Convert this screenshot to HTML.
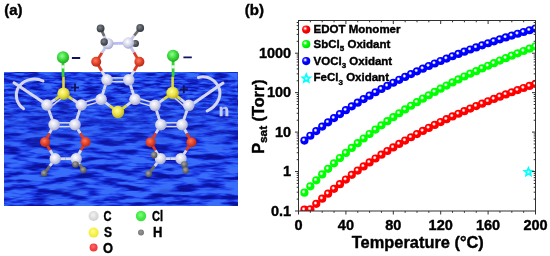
<!DOCTYPE html>
<html><head><meta charset="utf-8"><title>Figure</title>
<style>
html,body{margin:0;padding:0;background:#fff;}
body{width:550px;height:256px;overflow:hidden;}
svg{display:block;}
text{font-family:"Liberation Sans",sans-serif;font-weight:bold;fill:#000;stroke:#000;stroke-width:0.4px;}
</style></head><body>
<svg width="550" height="256" viewBox="0 0 550 256">
<defs>
<radialGradient id="mr" cx="0.40" cy="0.40" r="0.55"><stop offset="0" stop-color="#fff"/><stop offset="0.12" stop-color="#fff"/><stop offset="0.28" stop-color="#ff8c8c"/><stop offset="0.44" stop-color="#ff0000"/><stop offset="1" stop-color="#ff0000"/></radialGradient>
<radialGradient id="mg" cx="0.40" cy="0.40" r="0.55"><stop offset="0" stop-color="#fff"/><stop offset="0.12" stop-color="#fff"/><stop offset="0.28" stop-color="#8cff8c"/><stop offset="0.44" stop-color="#00ff00"/><stop offset="1" stop-color="#00ff00"/></radialGradient>
<radialGradient id="mb" cx="0.40" cy="0.40" r="0.55"><stop offset="0" stop-color="#fff"/><stop offset="0.12" stop-color="#fff"/><stop offset="0.28" stop-color="#8c8cff"/><stop offset="0.44" stop-color="#0000ff"/><stop offset="1" stop-color="#0000ff"/></radialGradient>
<radialGradient id="Lr" cx="0.38" cy="0.36" r="0.62"><stop offset="0" stop-color="#fff"/><stop offset="0.08" stop-color="#fff"/><stop offset="0.3" stop-color="#ff5050"/><stop offset="0.5" stop-color="#ff0000"/><stop offset="1" stop-color="#e00000"/></radialGradient>
<radialGradient id="Lg" cx="0.38" cy="0.36" r="0.62"><stop offset="0" stop-color="#fff"/><stop offset="0.08" stop-color="#fff"/><stop offset="0.3" stop-color="#50ff50"/><stop offset="0.5" stop-color="#00ff00"/><stop offset="1" stop-color="#00e000"/></radialGradient>
<radialGradient id="Lb" cx="0.38" cy="0.36" r="0.62"><stop offset="0" stop-color="#fff"/><stop offset="0.08" stop-color="#fff"/><stop offset="0.3" stop-color="#5050ff"/><stop offset="0.5" stop-color="#0000ff"/><stop offset="1" stop-color="#0000e0"/></radialGradient>
<radialGradient id="aC" cx="0.42" cy="0.38" r="0.65"><stop offset="0" stop-color="#ffffff"/><stop offset="0.55" stop-color="#d4d6ea"/><stop offset="1" stop-color="#9ea4cc"/></radialGradient>
<radialGradient id="aS" cx="0.42" cy="0.38" r="0.65"><stop offset="0" stop-color="#ffff9a"/><stop offset="0.55" stop-color="#e8e040"/><stop offset="1" stop-color="#b0a820"/></radialGradient>
<radialGradient id="aO" cx="0.42" cy="0.38" r="0.65"><stop offset="0" stop-color="#ff7a5a"/><stop offset="0.55" stop-color="#e04028"/><stop offset="1" stop-color="#a82818"/></radialGradient>
<radialGradient id="aCl" cx="0.42" cy="0.38" r="0.65"><stop offset="0" stop-color="#90ff90"/><stop offset="0.55" stop-color="#38d838"/><stop offset="1" stop-color="#20a020"/></radialGradient>
<radialGradient id="lC" cx="0.45" cy="0.4" r="0.6"><stop offset="0" stop-color="#f4f4f4"/><stop offset="0.6" stop-color="#dcdcdc"/><stop offset="1" stop-color="#cfcfcf"/></radialGradient>
<radialGradient id="lS" cx="0.45" cy="0.4" r="0.6"><stop offset="0" stop-color="#ffff90"/><stop offset="0.6" stop-color="#f8f048"/><stop offset="1" stop-color="#efe63c"/></radialGradient>
<radialGradient id="lO" cx="0.45" cy="0.4" r="0.6"><stop offset="0" stop-color="#ff7070"/><stop offset="0.6" stop-color="#f44040"/><stop offset="1" stop-color="#ee3a3a"/></radialGradient>
<radialGradient id="lCl" cx="0.45" cy="0.4" r="0.6"><stop offset="0" stop-color="#80ff80"/><stop offset="0.6" stop-color="#44ea44"/><stop offset="1" stop-color="#3ce03c"/></radialGradient>
<radialGradient id="lH" cx="0.45" cy="0.4" r="0.6"><stop offset="0" stop-color="#999"/><stop offset="0.6" stop-color="#808080"/><stop offset="1" stop-color="#787878"/></radialGradient>
<radialGradient id="aH2" cx="0.42" cy="0.38" r="0.65"><stop offset="0" stop-color="#80848c"/><stop offset="0.55" stop-color="#50545c"/><stop offset="1" stop-color="#30343c"/></radialGradient>
<radialGradient id="aH" cx="0.42" cy="0.38" r="0.65"><stop offset="0" stop-color="#a8a8a8"/><stop offset="0.55" stop-color="#707070"/><stop offset="1" stop-color="#484848"/></radialGradient>
<filter id="water" x="0" y="0" width="100%" height="100%" color-interpolation-filters="sRGB">
<feTurbulence type="fractalNoise" baseFrequency="0.04 0.2" numOctaves="3" seed="7" result="n"/>
<feColorMatrix in="n" type="matrix" values="3 0 0 0 -0.85  3 0 0 0 -0.85  3 0 0 0 -0.85  0 0 0 0 1"/>
<feComponentTransfer><feFuncR type="table" tableValues="0.05 0.06 0.10 0.16 0.22"/><feFuncG type="table" tableValues="0.07 0.11 0.21 0.33 0.43"/><feFuncB type="table" tableValues="0.60 0.72 0.87 0.95 0.98"/></feComponentTransfer>
</filter>
<filter id="water2" x="0" y="0" width="100%" height="100%" color-interpolation-filters="sRGB">
<feTurbulence type="fractalNoise" baseFrequency="0.07 0.36" numOctaves="3" seed="3" result="n"/>
<feColorMatrix in="n" type="matrix" values="2.2 0 0 0 -0.52  2.2 0 0 0 -0.52  2.2 0 0 0 -0.52  0 0 0 0 1"/>
<feComponentTransfer><feFuncR type="table" tableValues="0.05 0.06 0.10 0.16 0.22"/><feFuncG type="table" tableValues="0.07 0.11 0.21 0.33 0.43"/><feFuncB type="table" tableValues="0.60 0.72 0.87 0.95 0.98"/></feComponentTransfer>
</filter>
<linearGradient id="fade" x1="0" y1="0" x2="0" y2="1"><stop offset="0" stop-color="#fff"/><stop offset="0.15" stop-color="#fff"/><stop offset="0.6" stop-color="#000"/></linearGradient>
<mask id="fm" maskUnits="userSpaceOnUse" x="4" y="72.5" width="233.5" height="133"><rect x="4" y="72.5" width="233.5" height="133" fill="url(#fade)"/></mask>
<filter id="blur" x="-20%" y="-50%" width="140%" height="200%"><feGaussianBlur stdDeviation="1.2"/></filter>
<clipPath id="pc"><rect x="298.5" y="20.5" width="237.0" height="190.5"/></clipPath>
</defs>
<rect width="550" height="256" fill="#fff"/>

<g id="panel-a">
<rect x="4" y="72.7" width="233.5" height="132.8" fill="#1a34e0" filter="url(#water)"/>
<g mask="url(#fm)"><rect x="4" y="72.7" width="233.5" height="132.8" fill="#1a34e0" filter="url(#water2)"/></g>
<g fill="none" stroke="#0a1490" stroke-width="3" opacity="0.28" filter="url(#blur)"><path d="M44,199 L56,191 L77,191 L86,184"/><path d="M150,199 L162,191 L184,191 L193,184"/></g>
<g fill="none" stroke="#d4d7ee" stroke-width="3" stroke-linecap="round">
<path d="M43,81 C34,76.5 22,80 17.5,89 C14.5,96 17,104 23.5,108.6"/>
<path d="M14,82.8 L42.5,101.8"/>
<path d="M198.3,77.6 C207,74.5 216,80 219.4,89 C221.5,97 217,106.5 207.1,111"/>
<path d="M194,103 L223,83"/>
</g>
<g>
<line x1="63.0" y1="57.4" x2="63.0" y2="76.7" stroke="#34d034" stroke-width="2.8"/><line x1="63.0" y1="65.3" x2="63.0" y2="68.4" stroke="#fff" stroke-opacity="0.9" stroke-width="3.2"/><line x1="63.5" y1="76.7" x2="63.5" y2="93.6" stroke="#e0d838" stroke-width="2.6"/>
<line x1="63.5" y1="93.6" x2="55.2" y2="99.3" stroke="#e0d838" stroke-width="2.8"/><line x1="55.2" y1="99.3" x2="47.0" y2="105.0" stroke="#d8d8ec" stroke-width="2.8"/>
<line x1="63.5" y1="93.6" x2="72.4" y2="99.3" stroke="#e0d838" stroke-width="2.8"/><line x1="72.4" y1="99.3" x2="81.3" y2="105.0" stroke="#d8d8ec" stroke-width="2.8"/>
<line x1="47.0" y1="105.0" x2="50.5" y2="114.8" stroke="#d8d8ec" stroke-width="2.8"/><line x1="50.5" y1="114.8" x2="54.1" y2="124.7" stroke="#d8d8ec" stroke-width="2.8"/>
<line x1="81.3" y1="105.0" x2="78.2" y2="114.8" stroke="#d8d8ec" stroke-width="2.8"/><line x1="78.2" y1="114.8" x2="75.0" y2="124.7" stroke="#d8d8ec" stroke-width="2.8"/>
<line x1="54.1" y1="126.6" x2="75.0" y2="126.6" stroke="#d8d8ec" stroke-width="1.5"/><line x1="54.1" y1="122.8" x2="75.0" y2="122.8" stroke="#d8d8ec" stroke-width="1.5"/>
<line x1="54.1" y1="124.7" x2="49.5" y2="133.3" stroke="#d8d8ec" stroke-width="2.8"/><line x1="49.5" y1="133.3" x2="45.0" y2="142.0" stroke="#d83c26" stroke-width="2.8"/>
<line x1="75.0" y1="124.7" x2="80.3" y2="133.3" stroke="#d8d8ec" stroke-width="2.8"/><line x1="80.3" y1="133.3" x2="85.6" y2="142.0" stroke="#d83c26" stroke-width="2.8"/>
<line x1="45.0" y1="142.0" x2="50.1" y2="150.3" stroke="#d83c26" stroke-width="2.8"/><line x1="50.1" y1="150.3" x2="55.2" y2="158.7" stroke="#d8d8ec" stroke-width="2.8"/>
<line x1="85.6" y1="142.0" x2="80.9" y2="150.3" stroke="#d83c26" stroke-width="2.8"/><line x1="80.9" y1="150.3" x2="76.2" y2="158.7" stroke="#d8d8ec" stroke-width="2.8"/>
<line x1="55.2" y1="158.7" x2="65.7" y2="158.7" stroke="#d8d8ec" stroke-width="2.8"/><line x1="65.7" y1="158.7" x2="76.2" y2="158.7" stroke="#d8d8ec" stroke-width="2.8"/>
<line x1="63.5" y1="96.8" x2="48.5" y2="108.4" stroke="#d8d8ec" stroke-width="1.4"/>
<line x1="55.2" y1="158.7" x2="49.7" y2="166.1" stroke="#d8d8ec" stroke-width="2.8"/><line x1="49.7" y1="166.1" x2="44.2" y2="173.4" stroke="#6c6c6c" stroke-width="2.8"/>
<line x1="76.2" y1="158.7" x2="75.8" y2="161.6" stroke="#d8d8ec" stroke-width="2.8"/><line x1="75.8" y1="161.6" x2="75.5" y2="164.5" stroke="#6c6c6c" stroke-width="2.8"/>
<line x1="76.2" y1="158.7" x2="79.8" y2="164.3" stroke="#d8d8ec" stroke-width="2.8"/><line x1="79.8" y1="164.3" x2="83.3" y2="170.0" stroke="#6c6c6c" stroke-width="2.8"/>
<line x1="173.1" y1="55.8" x2="173.1" y2="76.7" stroke="#34d034" stroke-width="2.8"/><line x1="173.1" y1="65.3" x2="173.1" y2="68.4" stroke="#fff" stroke-opacity="0.9" stroke-width="3.2"/><line x1="172.6" y1="76.7" x2="172.6" y2="92.9" stroke="#e0d838" stroke-width="2.6"/>
<line x1="172.6" y1="92.9" x2="163.8" y2="99.1" stroke="#e0d838" stroke-width="2.8"/><line x1="163.8" y1="99.1" x2="155.0" y2="105.3" stroke="#d8d8ec" stroke-width="2.8"/>
<line x1="172.6" y1="92.9" x2="180.6" y2="99.1" stroke="#e0d838" stroke-width="2.8"/><line x1="180.6" y1="99.1" x2="188.7" y2="105.3" stroke="#d8d8ec" stroke-width="2.8"/>
<line x1="155.0" y1="105.3" x2="157.9" y2="115.0" stroke="#d8d8ec" stroke-width="2.8"/><line x1="157.9" y1="115.0" x2="160.9" y2="124.7" stroke="#d8d8ec" stroke-width="2.8"/>
<line x1="188.7" y1="105.3" x2="185.4" y2="115.0" stroke="#d8d8ec" stroke-width="2.8"/><line x1="185.4" y1="115.0" x2="182.1" y2="124.7" stroke="#d8d8ec" stroke-width="2.8"/>
<line x1="160.9" y1="126.6" x2="182.1" y2="126.6" stroke="#d8d8ec" stroke-width="1.5"/><line x1="160.9" y1="122.8" x2="182.1" y2="122.8" stroke="#d8d8ec" stroke-width="1.5"/>
<line x1="160.9" y1="124.7" x2="155.8" y2="133.4" stroke="#d8d8ec" stroke-width="2.8"/><line x1="155.8" y1="133.4" x2="150.6" y2="142.2" stroke="#d83c26" stroke-width="2.8"/>
<line x1="182.1" y1="124.7" x2="186.8" y2="133.4" stroke="#d8d8ec" stroke-width="2.8"/><line x1="186.8" y1="133.4" x2="191.4" y2="142.2" stroke="#d83c26" stroke-width="2.8"/>
<line x1="150.6" y1="142.2" x2="155.5" y2="150.4" stroke="#d83c26" stroke-width="2.8"/><line x1="155.5" y1="150.4" x2="160.4" y2="158.6" stroke="#d8d8ec" stroke-width="2.8"/>
<line x1="191.4" y1="142.2" x2="186.2" y2="150.4" stroke="#d83c26" stroke-width="2.8"/><line x1="186.2" y1="150.4" x2="181.0" y2="158.6" stroke="#d8d8ec" stroke-width="2.8"/>
<line x1="160.4" y1="158.6" x2="170.7" y2="158.6" stroke="#d8d8ec" stroke-width="2.8"/><line x1="170.7" y1="158.6" x2="181.0" y2="158.6" stroke="#d8d8ec" stroke-width="2.8"/>
<line x1="172.6" y1="96.1" x2="187.2" y2="108.7" stroke="#d8d8ec" stroke-width="1.4"/>
<line x1="160.4" y1="158.6" x2="157.2" y2="156.8" stroke="#d8d8ec" stroke-width="2.8"/><line x1="157.2" y1="156.8" x2="154.1" y2="155.1" stroke="#6c6c6c" stroke-width="2.8"/>
<line x1="160.4" y1="158.6" x2="154.6" y2="166.2" stroke="#d8d8ec" stroke-width="2.8"/><line x1="154.6" y1="166.2" x2="148.7" y2="173.9" stroke="#6c6c6c" stroke-width="2.8"/>
<line x1="181.0" y1="158.6" x2="182.7" y2="161.6" stroke="#d8d8ec" stroke-width="2.8"/><line x1="182.7" y1="161.6" x2="184.3" y2="164.5" stroke="#6c6c6c" stroke-width="2.8"/>
<line x1="181.0" y1="158.6" x2="183.3" y2="164.5" stroke="#d8d8ec" stroke-width="2.8"/><line x1="183.3" y1="164.5" x2="185.7" y2="170.4" stroke="#6c6c6c" stroke-width="2.8"/>
<line x1="118.0" y1="112.0" x2="109.5" y2="105.7" stroke="#e0d838" stroke-width="2.8"/><line x1="109.5" y1="105.7" x2="101.1" y2="99.3" stroke="#d8d8ec" stroke-width="2.8"/>
<line x1="118.0" y1="112.0" x2="126.5" y2="105.7" stroke="#e0d838" stroke-width="2.8"/><line x1="126.5" y1="105.7" x2="135.0" y2="99.3" stroke="#d8d8ec" stroke-width="2.8"/>
<line x1="101.1" y1="99.3" x2="104.0" y2="89.5" stroke="#d8d8ec" stroke-width="2.8"/><line x1="104.0" y1="89.5" x2="107.0" y2="79.8" stroke="#d8d8ec" stroke-width="2.8"/>
<line x1="135.0" y1="99.3" x2="131.9" y2="89.5" stroke="#d8d8ec" stroke-width="2.8"/><line x1="131.9" y1="89.5" x2="128.8" y2="79.8" stroke="#d8d8ec" stroke-width="2.8"/>
<line x1="107.0" y1="81.7" x2="128.8" y2="81.7" stroke="#d8d8ec" stroke-width="1.5"/><line x1="107.0" y1="77.9" x2="128.8" y2="77.9" stroke="#d8d8ec" stroke-width="1.5"/>
<line x1="107.0" y1="79.8" x2="101.6" y2="70.8" stroke="#d8d8ec" stroke-width="2.8"/><line x1="101.6" y1="70.8" x2="96.2" y2="61.8" stroke="#d83c26" stroke-width="2.8"/>
<line x1="128.8" y1="79.8" x2="134.1" y2="70.8" stroke="#d8d8ec" stroke-width="2.8"/><line x1="134.1" y1="70.8" x2="139.4" y2="61.8" stroke="#d83c26" stroke-width="2.8"/>
<line x1="96.2" y1="61.8" x2="102.0" y2="52.7" stroke="#d83c26" stroke-width="2.8"/><line x1="102.0" y1="52.7" x2="107.8" y2="43.6" stroke="#c4c6ee" stroke-width="2.8"/>
<line x1="139.4" y1="61.8" x2="133.9" y2="52.4" stroke="#d83c26" stroke-width="2.8"/><line x1="133.9" y1="52.4" x2="128.4" y2="43.0" stroke="#c4c6ee" stroke-width="2.8"/>
<line x1="107.8" y1="43.6" x2="118.1" y2="43.3" stroke="#b8bcf0" stroke-width="2.8"/><line x1="118.1" y1="43.3" x2="128.4" y2="43.0" stroke="#b8bcf0" stroke-width="2.8"/>
<line x1="107.8" y1="43.6" x2="104.2" y2="36.0" stroke="#c4c6ee" stroke-width="2.8"/><line x1="104.2" y1="36.0" x2="100.6" y2="28.4" stroke="#6c6c6c" stroke-width="2.8"/>
<line x1="128.4" y1="43.0" x2="134.3" y2="35.5" stroke="#c4c6ee" stroke-width="2.8"/><line x1="134.3" y1="35.5" x2="140.2" y2="28.0" stroke="#6c6c6c" stroke-width="2.8"/>
<line x1="81.8" y1="106.8" x2="101.6" y2="101.1" stroke="#d8d8ec" stroke-width="1.5"/><line x1="80.8" y1="103.2" x2="100.6" y2="97.5" stroke="#d8d8ec" stroke-width="1.5"/>
<line x1="134.5" y1="101.1" x2="154.5" y2="107.1" stroke="#d8d8ec" stroke-width="1.5"/><line x1="135.5" y1="97.5" x2="155.5" y2="103.5" stroke="#d8d8ec" stroke-width="1.5"/>
<circle cx="63.0" cy="57.4" r="6.1" fill="url(#aCl)"/>
<circle cx="63.5" cy="93.6" r="6.2" fill="url(#aS)"/>
<circle cx="47.0" cy="105.0" r="5.8" fill="url(#aC)"/>
<circle cx="81.3" cy="105.0" r="5.8" fill="url(#aC)"/>
<circle cx="54.1" cy="124.7" r="5.8" fill="url(#aC)"/>
<circle cx="75.0" cy="124.7" r="5.8" fill="url(#aC)"/>
<circle cx="45.0" cy="142.0" r="5.0" fill="url(#aO)"/>
<circle cx="85.6" cy="142.0" r="5.0" fill="url(#aO)"/>
<circle cx="55.2" cy="158.7" r="5.7" fill="url(#aC)"/>
<circle cx="76.2" cy="158.7" r="5.7" fill="url(#aC)"/>
<circle cx="44.2" cy="173.4" r="3.3" fill="url(#aH)"/>
<circle cx="75.5" cy="164.5" r="3.3" fill="url(#aH)"/>
<circle cx="83.3" cy="170.0" r="3.3" fill="url(#aH)"/>
<circle cx="173.1" cy="55.8" r="6.1" fill="url(#aCl)"/>
<circle cx="172.6" cy="92.9" r="6.2" fill="url(#aS)"/>
<circle cx="155.0" cy="105.3" r="5.8" fill="url(#aC)"/>
<circle cx="188.7" cy="105.3" r="5.8" fill="url(#aC)"/>
<circle cx="160.9" cy="124.7" r="5.8" fill="url(#aC)"/>
<circle cx="182.1" cy="124.7" r="5.8" fill="url(#aC)"/>
<circle cx="150.6" cy="142.2" r="5.0" fill="url(#aO)"/>
<circle cx="191.4" cy="142.2" r="5.0" fill="url(#aO)"/>
<circle cx="160.4" cy="158.6" r="5.7" fill="url(#aC)"/>
<circle cx="181.0" cy="158.6" r="5.7" fill="url(#aC)"/>
<circle cx="154.1" cy="155.1" r="3.3" fill="url(#aH)"/>
<circle cx="148.7" cy="173.9" r="3.3" fill="url(#aH)"/>
<circle cx="184.3" cy="164.5" r="3.3" fill="url(#aH)"/>
<circle cx="185.7" cy="170.4" r="3.3" fill="url(#aH)"/>
<circle cx="135.5" cy="43.6" r="3.5" fill="url(#aH2)"/>
<circle cx="118.0" cy="112.0" r="6.2" fill="url(#aS)"/>
<circle cx="101.1" cy="99.3" r="5.8" fill="url(#aC)"/>
<circle cx="135.0" cy="99.3" r="5.8" fill="url(#aC)"/>
<circle cx="107.0" cy="79.8" r="5.8" fill="url(#aC)"/>
<circle cx="128.8" cy="79.8" r="5.8" fill="url(#aC)"/>
<circle cx="96.2" cy="61.8" r="5.0" fill="url(#aO)"/>
<circle cx="139.4" cy="61.8" r="5.0" fill="url(#aO)"/>
<circle cx="107.8" cy="43.6" r="5.7" fill="url(#aC)"/>
<circle cx="128.4" cy="43.0" r="5.7" fill="url(#aC)"/>
<circle cx="100.6" cy="28.4" r="3.9" fill="url(#aH2)"/>
<circle cx="140.2" cy="28.0" r="3.9" fill="url(#aH2)"/>
<circle cx="104.2" cy="42.0" r="3.7" fill="url(#aH2)"/>
</g>
<g stroke="#12125a" stroke-width="1.8">
<path d="M71.0,87.6 h8 M75.0,83.6 v8"/>
<path d="M179.8,89.3 h8 M183.8,85.3 v8"/>
<path d="M71.9,58 h8.3 M183.4,57.3 h8.4"/>
</g>
<text x="218.8" y="116.2" font-size="17" style="fill:#c6caee;stroke:#c6caee">n</text>
<circle cx="93.6" cy="216.0" r="5.0" fill="url(#lC)"/>
<text x="103.6" y="221.0" font-size="14" textLength="8.0" lengthAdjust="spacingAndGlyphs">C</text>
<circle cx="93.6" cy="232.6" r="5.0" fill="url(#lS)"/>
<text x="104.0" y="237.4" font-size="14" textLength="8.0" lengthAdjust="spacingAndGlyphs">S</text>
<circle cx="93.6" cy="247.4" r="4.0" fill="url(#lO)"/>
<text x="103.0" y="253.0" font-size="14" textLength="10.0" lengthAdjust="spacingAndGlyphs">O</text>
<circle cx="141.0" cy="216.0" r="5.2" fill="url(#lCl)"/>
<text x="152.0" y="221.0" font-size="14" textLength="11.0" lengthAdjust="spacingAndGlyphs">Cl</text>
<circle cx="141.0" cy="232.6" r="3.0" fill="url(#lH)"/>
<text x="153.0" y="237.4" font-size="14" textLength="9.4" lengthAdjust="spacingAndGlyphs">H</text>
<text x="4.2" y="15" font-size="15">(a)</text>
</g>
<g id="panel-b">
<text x="244.8" y="15" font-size="15">(b)</text>
<g clip-path="url(#pc)">
<circle cx="304.43" cy="209.70" r="4.1" fill="url(#mr)"/>
<circle cx="310.35" cy="209.23" r="4.1" fill="url(#mr)"/>
<circle cx="316.27" cy="203.86" r="4.1" fill="url(#mr)"/>
<circle cx="322.20" cy="198.68" r="4.1" fill="url(#mr)"/>
<circle cx="328.12" cy="193.67" r="4.1" fill="url(#mr)"/>
<circle cx="334.05" cy="188.82" r="4.1" fill="url(#mr)"/>
<circle cx="339.98" cy="184.13" r="4.1" fill="url(#mr)"/>
<circle cx="345.90" cy="179.59" r="4.1" fill="url(#mr)"/>
<circle cx="351.82" cy="174.83" r="4.1" fill="url(#mr)"/>
<circle cx="357.75" cy="170.56" r="4.1" fill="url(#mr)"/>
<circle cx="363.68" cy="166.42" r="4.1" fill="url(#mr)"/>
<circle cx="369.60" cy="162.40" r="4.1" fill="url(#mr)"/>
<circle cx="375.52" cy="158.49" r="4.1" fill="url(#mr)"/>
<circle cx="381.45" cy="154.70" r="4.1" fill="url(#mr)"/>
<circle cx="387.38" cy="151.02" r="4.1" fill="url(#mr)"/>
<circle cx="393.30" cy="147.44" r="4.1" fill="url(#mr)"/>
<circle cx="399.23" cy="143.96" r="4.1" fill="url(#mr)"/>
<circle cx="405.15" cy="140.57" r="4.1" fill="url(#mr)"/>
<circle cx="411.07" cy="137.27" r="4.1" fill="url(#mr)"/>
<circle cx="417.00" cy="134.06" r="4.1" fill="url(#mr)"/>
<circle cx="422.93" cy="130.94" r="4.1" fill="url(#mr)"/>
<circle cx="428.85" cy="127.89" r="4.1" fill="url(#mr)"/>
<circle cx="434.77" cy="124.92" r="4.1" fill="url(#mr)"/>
<circle cx="440.70" cy="122.03" r="4.1" fill="url(#mr)"/>
<circle cx="446.62" cy="119.21" r="4.1" fill="url(#mr)"/>
<circle cx="452.55" cy="116.46" r="4.1" fill="url(#mr)"/>
<circle cx="458.48" cy="113.77" r="4.1" fill="url(#mr)"/>
<circle cx="464.40" cy="111.15" r="4.1" fill="url(#mr)"/>
<circle cx="470.32" cy="108.59" r="4.1" fill="url(#mr)"/>
<circle cx="476.25" cy="106.09" r="4.1" fill="url(#mr)"/>
<circle cx="482.18" cy="103.65" r="4.1" fill="url(#mr)"/>
<circle cx="488.10" cy="101.26" r="4.1" fill="url(#mr)"/>
<circle cx="494.02" cy="98.93" r="4.1" fill="url(#mr)"/>
<circle cx="499.95" cy="96.65" r="4.1" fill="url(#mr)"/>
<circle cx="505.88" cy="94.42" r="4.1" fill="url(#mr)"/>
<circle cx="511.80" cy="92.24" r="4.1" fill="url(#mr)"/>
<circle cx="517.73" cy="90.10" r="4.1" fill="url(#mr)"/>
<circle cx="523.65" cy="88.01" r="4.1" fill="url(#mr)"/>
<circle cx="529.58" cy="85.97" r="4.1" fill="url(#mr)"/>
<circle cx="535.50" cy="83.97" r="4.1" fill="url(#mr)"/>
</g>
<g clip-path="url(#pc)">
<circle cx="304.43" cy="192.64" r="4.1" fill="url(#mg)"/>
<circle cx="310.35" cy="186.37" r="4.1" fill="url(#mg)"/>
<circle cx="316.27" cy="180.31" r="4.1" fill="url(#mg)"/>
<circle cx="322.20" cy="174.46" r="4.1" fill="url(#mg)"/>
<circle cx="328.12" cy="168.81" r="4.1" fill="url(#mg)"/>
<circle cx="334.05" cy="163.34" r="4.1" fill="url(#mg)"/>
<circle cx="339.98" cy="158.05" r="4.1" fill="url(#mg)"/>
<circle cx="345.90" cy="152.93" r="4.1" fill="url(#mg)"/>
<circle cx="351.82" cy="147.97" r="4.1" fill="url(#mg)"/>
<circle cx="357.75" cy="143.16" r="4.1" fill="url(#mg)"/>
<circle cx="363.68" cy="138.50" r="4.1" fill="url(#mg)"/>
<circle cx="369.60" cy="133.98" r="4.1" fill="url(#mg)"/>
<circle cx="375.52" cy="129.60" r="4.1" fill="url(#mg)"/>
<circle cx="381.45" cy="125.34" r="4.1" fill="url(#mg)"/>
<circle cx="387.38" cy="121.20" r="4.1" fill="url(#mg)"/>
<circle cx="393.30" cy="117.18" r="4.1" fill="url(#mg)"/>
<circle cx="399.23" cy="113.27" r="4.1" fill="url(#mg)"/>
<circle cx="405.15" cy="109.47" r="4.1" fill="url(#mg)"/>
<circle cx="411.07" cy="105.77" r="4.1" fill="url(#mg)"/>
<circle cx="417.00" cy="102.17" r="4.1" fill="url(#mg)"/>
<circle cx="422.93" cy="98.67" r="4.1" fill="url(#mg)"/>
<circle cx="428.85" cy="95.26" r="4.1" fill="url(#mg)"/>
<circle cx="434.77" cy="91.94" r="4.1" fill="url(#mg)"/>
<circle cx="440.70" cy="88.70" r="4.1" fill="url(#mg)"/>
<circle cx="446.62" cy="85.54" r="4.1" fill="url(#mg)"/>
<circle cx="452.55" cy="82.46" r="4.1" fill="url(#mg)"/>
<circle cx="458.48" cy="79.45" r="4.1" fill="url(#mg)"/>
<circle cx="464.40" cy="76.52" r="4.1" fill="url(#mg)"/>
<circle cx="470.32" cy="73.66" r="4.1" fill="url(#mg)"/>
<circle cx="476.25" cy="71.17" r="4.1" fill="url(#mg)"/>
<circle cx="482.18" cy="68.44" r="4.1" fill="url(#mg)"/>
<circle cx="488.10" cy="65.77" r="4.1" fill="url(#mg)"/>
<circle cx="494.02" cy="63.17" r="4.1" fill="url(#mg)"/>
<circle cx="499.95" cy="60.62" r="4.1" fill="url(#mg)"/>
<circle cx="505.88" cy="58.13" r="4.1" fill="url(#mg)"/>
<circle cx="511.80" cy="55.70" r="4.1" fill="url(#mg)"/>
<circle cx="517.73" cy="53.31" r="4.1" fill="url(#mg)"/>
<circle cx="523.65" cy="50.98" r="4.1" fill="url(#mg)"/>
<circle cx="529.58" cy="48.70" r="4.1" fill="url(#mg)"/>
<circle cx="535.50" cy="46.47" r="4.1" fill="url(#mg)"/>
</g>
<g clip-path="url(#pc)">
<circle cx="304.43" cy="140.55" r="4.1" fill="url(#mb)"/>
<circle cx="310.35" cy="135.74" r="4.1" fill="url(#mb)"/>
<circle cx="316.27" cy="131.10" r="4.1" fill="url(#mb)"/>
<circle cx="322.20" cy="126.62" r="4.1" fill="url(#mb)"/>
<circle cx="328.12" cy="122.29" r="4.1" fill="url(#mb)"/>
<circle cx="334.05" cy="118.10" r="4.1" fill="url(#mb)"/>
<circle cx="339.98" cy="114.05" r="4.1" fill="url(#mb)"/>
<circle cx="345.90" cy="110.13" r="4.1" fill="url(#mb)"/>
<circle cx="351.82" cy="106.33" r="4.1" fill="url(#mb)"/>
<circle cx="357.75" cy="102.65" r="4.1" fill="url(#mb)"/>
<circle cx="363.68" cy="99.08" r="4.1" fill="url(#mb)"/>
<circle cx="369.60" cy="95.63" r="4.1" fill="url(#mb)"/>
<circle cx="375.52" cy="92.27" r="4.1" fill="url(#mb)"/>
<circle cx="381.45" cy="89.01" r="4.1" fill="url(#mb)"/>
<circle cx="387.38" cy="85.85" r="4.1" fill="url(#mb)"/>
<circle cx="393.30" cy="82.77" r="4.1" fill="url(#mb)"/>
<circle cx="399.23" cy="79.78" r="4.1" fill="url(#mb)"/>
<circle cx="405.15" cy="76.88" r="4.1" fill="url(#mb)"/>
<circle cx="411.07" cy="74.05" r="4.1" fill="url(#mb)"/>
<circle cx="417.00" cy="71.30" r="4.1" fill="url(#mb)"/>
<circle cx="422.93" cy="68.63" r="4.1" fill="url(#mb)"/>
<circle cx="428.85" cy="66.02" r="4.1" fill="url(#mb)"/>
<circle cx="434.77" cy="63.48" r="4.1" fill="url(#mb)"/>
<circle cx="440.70" cy="61.00" r="4.1" fill="url(#mb)"/>
<circle cx="446.62" cy="58.59" r="4.1" fill="url(#mb)"/>
<circle cx="452.55" cy="56.24" r="4.1" fill="url(#mb)"/>
<circle cx="458.48" cy="53.94" r="4.1" fill="url(#mb)"/>
<circle cx="464.40" cy="51.71" r="4.1" fill="url(#mb)"/>
<circle cx="470.32" cy="49.52" r="4.1" fill="url(#mb)"/>
<circle cx="476.25" cy="47.39" r="4.1" fill="url(#mb)"/>
<circle cx="482.18" cy="45.30" r="4.1" fill="url(#mb)"/>
<circle cx="488.10" cy="43.27" r="4.1" fill="url(#mb)"/>
<circle cx="494.02" cy="41.28" r="4.1" fill="url(#mb)"/>
<circle cx="499.95" cy="39.34" r="4.1" fill="url(#mb)"/>
<circle cx="505.88" cy="37.44" r="4.1" fill="url(#mb)"/>
<circle cx="511.80" cy="35.58" r="4.1" fill="url(#mb)"/>
<circle cx="517.73" cy="33.76" r="4.1" fill="url(#mb)"/>
<circle cx="523.65" cy="31.98" r="4.1" fill="url(#mb)"/>
<circle cx="529.58" cy="30.24" r="4.1" fill="url(#mb)"/>
<circle cx="535.50" cy="28.54" r="4.1" fill="url(#mb)"/>
</g>
<polygon points="528.40,168.00 529.46,170.64 532.30,170.83 530.11,172.66 530.81,175.42 528.40,173.90 525.99,175.42 526.69,172.66 524.50,170.83 527.34,170.64" fill="#fff" stroke="#00ffff" stroke-width="1.7"/>
<polygon points="306.30,74.40 307.36,77.04 310.20,77.23 308.01,79.06 308.71,81.82 306.30,80.30 303.89,81.82 304.59,79.06 302.40,77.23 305.24,77.04" fill="#fff" stroke="#00ffff" stroke-width="1.7"/>
<g stroke="#303030" stroke-width="1" fill="none">
<rect x="298.5" y="20.5" width="237.0" height="190.5"/>
<path d="M298.50,211.0 v3.5 M310.35,211.0 v1.8 M310.35,20.5 v1.8 M322.20,211.0 v1.8 M322.20,20.5 v1.8 M334.05,211.0 v1.8 M334.05,20.5 v1.8 M345.90,211.0 v3.5 M345.90,20.5 v3.5 M357.75,211.0 v1.8 M357.75,20.5 v1.8 M369.60,211.0 v1.8 M369.60,20.5 v1.8 M381.45,211.0 v1.8 M381.45,20.5 v1.8 M393.30,211.0 v3.5 M393.30,20.5 v3.5 M405.15,211.0 v1.8 M405.15,20.5 v1.8 M417.00,211.0 v1.8 M417.00,20.5 v1.8 M428.85,211.0 v1.8 M428.85,20.5 v1.8 M440.70,211.0 v3.5 M440.70,20.5 v3.5 M452.55,211.0 v1.8 M452.55,20.5 v1.8 M464.40,211.0 v1.8 M464.40,20.5 v1.8 M476.25,211.0 v1.8 M476.25,20.5 v1.8 M488.10,211.0 v3.5 M488.10,20.5 v3.5 M499.95,211.0 v1.8 M499.95,20.5 v1.8 M511.80,211.0 v1.8 M511.80,20.5 v1.8 M523.65,211.0 v1.8 M523.65,20.5 v1.8 M535.50,211.0 v3.5 M298.5,211.00 h-3.5 M298.5,199.12 h-1.8 M535.5,199.12 h-1.8 M298.5,192.18 h-1.8 M535.5,192.18 h-1.8 M298.5,187.25 h-1.8 M535.5,187.25 h-1.8 M298.5,183.43 h-1.8 M535.5,183.43 h-1.8 M298.5,180.30 h-1.8 M535.5,180.30 h-1.8 M298.5,177.66 h-1.8 M535.5,177.66 h-1.8 M298.5,175.37 h-1.8 M535.5,175.37 h-1.8 M298.5,173.36 h-1.8 M535.5,173.36 h-1.8 M298.5,171.55 h-3.5 M535.5,171.55 h-3.5 M298.5,159.67 h-1.8 M535.5,159.67 h-1.8 M298.5,152.73 h-1.8 M535.5,152.73 h-1.8 M298.5,147.80 h-1.8 M535.5,147.80 h-1.8 M298.5,143.98 h-1.8 M535.5,143.98 h-1.8 M298.5,140.85 h-1.8 M535.5,140.85 h-1.8 M298.5,138.21 h-1.8 M535.5,138.21 h-1.8 M298.5,135.92 h-1.8 M535.5,135.92 h-1.8 M298.5,133.91 h-1.8 M535.5,133.91 h-1.8 M298.5,132.10 h-3.5 M535.5,132.10 h-3.5 M298.5,120.22 h-1.8 M535.5,120.22 h-1.8 M298.5,113.28 h-1.8 M535.5,113.28 h-1.8 M298.5,108.35 h-1.8 M535.5,108.35 h-1.8 M298.5,104.53 h-1.8 M535.5,104.53 h-1.8 M298.5,101.40 h-1.8 M535.5,101.40 h-1.8 M298.5,98.76 h-1.8 M535.5,98.76 h-1.8 M298.5,96.47 h-1.8 M535.5,96.47 h-1.8 M298.5,94.46 h-1.8 M535.5,94.46 h-1.8 M298.5,92.65 h-3.5 M535.5,92.65 h-3.5 M298.5,80.77 h-1.8 M535.5,80.77 h-1.8 M298.5,73.83 h-1.8 M535.5,73.83 h-1.8 M298.5,68.90 h-1.8 M535.5,68.90 h-1.8 M298.5,65.08 h-1.8 M535.5,65.08 h-1.8 M298.5,61.95 h-1.8 M535.5,61.95 h-1.8 M298.5,59.31 h-1.8 M535.5,59.31 h-1.8 M298.5,57.02 h-1.8 M535.5,57.02 h-1.8 M298.5,55.01 h-1.8 M535.5,55.01 h-1.8 M298.5,53.20 h-3.5 M535.5,53.20 h-3.5 M298.5,41.32 h-1.8 M535.5,41.32 h-1.8 M298.5,34.38 h-1.8 M535.5,34.38 h-1.8 M298.5,29.45 h-1.8 M535.5,29.45 h-1.8 M298.5,25.63 h-1.8 M535.5,25.63 h-1.8 M298.5,22.50 h-1.8 M535.5,22.50 h-1.8"/>
</g>
<text x="298.5" y="229.7" font-size="14.5" text-anchor="middle">0</text>
<text x="345.9" y="229.7" font-size="14.5" text-anchor="middle">40</text>
<text x="393.3" y="229.7" font-size="14.5" text-anchor="middle">80</text>
<text x="440.7" y="229.7" font-size="14.5" text-anchor="middle">120</text>
<text x="488.1" y="229.7" font-size="14.5" text-anchor="middle">160</text>
<text x="535.5" y="229.7" font-size="14.5" text-anchor="middle">200</text>
<text x="291.2" y="57.9" font-size="14.5" text-anchor="end">1000</text>
<text x="291.2" y="97.3" font-size="14.5" text-anchor="end">100</text>
<text x="291.2" y="136.8" font-size="14.5" text-anchor="end">10</text>
<text x="291.2" y="176.2" font-size="14.5" text-anchor="end">1</text>
<text x="291.2" y="215.7" font-size="14.5" text-anchor="end">0.1</text>
<text x="417.8" y="248.4" font-size="16.4" text-anchor="middle">Temperature (°C)</text>
<text transform="translate(264.2,116.6) rotate(-90)" font-size="16.2" text-anchor="middle">P<tspan font-size="11.8" dy="3">sat</tspan><tspan dy="-3"> (Torr)</tspan></text>
<circle cx="306.2" cy="29.6" r="4.1" fill="url(#Lr)"/>
<circle cx="306.2" cy="44.2" r="4.1" fill="url(#Lg)"/>
<circle cx="306.2" cy="61.1" r="4.1" fill="url(#Lb)"/>
<text x="313.6" y="33" font-size="11.5">EDOT Monomer</text>
<text x="313.6" y="47.7" font-size="11.5">SbCl<tspan font-size="8" dy="3.3">5</tspan><tspan dy="-3.3"> Oxidant</tspan></text>
<text x="313.6" y="64.6" font-size="11.5">VOCl<tspan font-size="8" dy="3.3">3</tspan><tspan dy="-3.3"> Oxidant</tspan></text>
<text x="313.6" y="81.3" font-size="11.5">FeCl<tspan font-size="8" dy="3.3">3</tspan><tspan dy="-3.3"> Oxidant</tspan></text>
</g>
</svg></body></html>
